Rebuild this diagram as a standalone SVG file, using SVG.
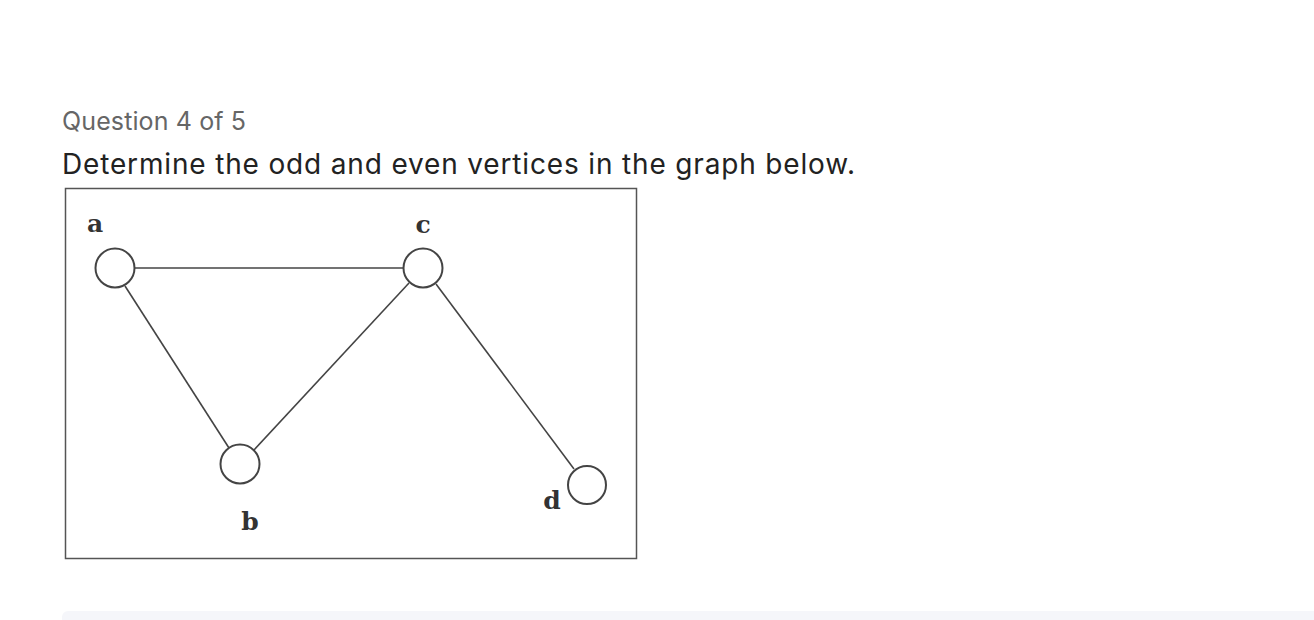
<svg xmlns="http://www.w3.org/2000/svg" width="1314" height="620" viewBox="0 0 1314 620">
<style>
.q{font-family:Inter,"Liberation Sans",sans-serif;font-size:25px;fill:#666}
.h{font-family:Inter,"Liberation Sans",sans-serif;font-size:28px;fill:#222}
.lbl{font-family:"DejaVu Serif","Liberation Serif",serif;font-size:25px;font-weight:bold;fill:#333}
.v{fill:#fff;stroke:#444;stroke-width:2}
.e{stroke:#444;stroke-width:1.6;fill:none}
</style>
<rect width="1314" height="620" fill="#fff"/>
<text class="q" x="62" y="130" textLength="184">Question 4 of 5</text>
<text class="h" x="62" y="174" textLength="793">Determine the odd and even vertices in the graph below.</text>
<rect x="65.5" y="188.5" width="571" height="370" fill="#fff" stroke="#555" stroke-width="1.5"/>
<g id="connectors">
<line class="e" x1="135" y1="268" x2="403" y2="268"/>
<line class="e" x1="125" y1="286" x2="229" y2="448"/>
<line class="e" x1="254" y1="450" x2="409" y2="283"/>
<line class="e" x1="436" y1="284" x2="574" y2="469"/>
</g>
<g id="node-a"><circle class="v" cx="115" cy="268" r="19.5"/><text class="lbl" x="95" y="232" text-anchor="middle">a</text></g>
<g id="node-c"><circle class="v" cx="423" cy="268" r="19.5"/><text class="lbl" x="423" y="233" text-anchor="middle">c</text></g>
<g id="node-b"><circle class="v" cx="240" cy="464" r="19.5"/><text class="lbl" x="250" y="530" text-anchor="middle">b</text></g>
<g id="node-d"><circle class="v" cx="587" cy="485" r="19"/><text class="lbl" x="552" y="509" text-anchor="middle">d</text></g>
<rect x="62" y="611" width="1260" height="20" rx="6" fill="#f5f6fa"/>
</svg>
